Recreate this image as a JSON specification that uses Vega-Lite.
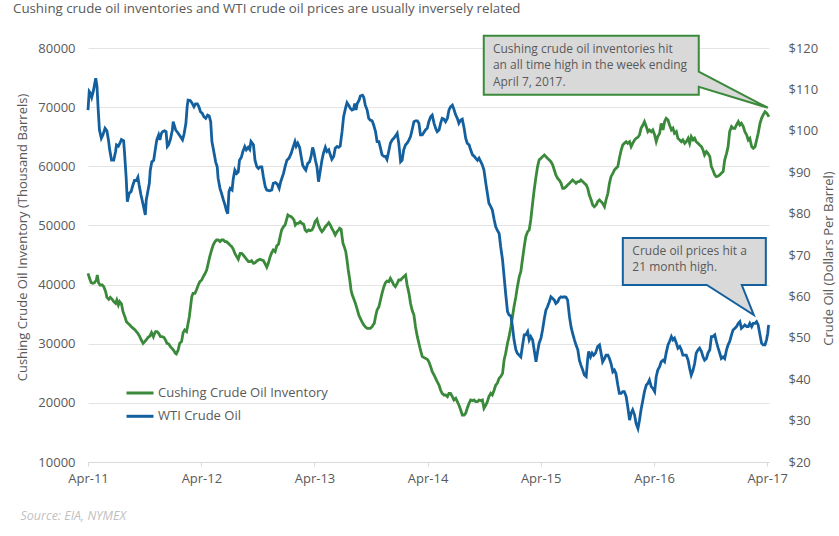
{
  "$schema": "https://vega.github.io/schema/vega-lite/v6.json",
  "width": 681,
  "height": 414,
  "autosize": {"type": "none"},
  "padding": {"left": 88, "top": 48, "right": 70, "bottom": 74},
  "background": "white",
  "config": {"font": "Open Sans", "view": {"stroke": null}},
  "title": {
    "text": "Cushing crude oil inventories and WTI crude oil prices are usually inversely related",
    "anchor": "start", "frame": "group", "dx": -75, "offset": 5,
    "fontSize": 13.3, "fontWeight": "normal", "color": "#595959", "baseline": "alphabetic"
  },
  "datasets": {
    "inv": [
      {"date":"2011-04-01","value":41900},{"date":"2011-04-06","value":41060},{"date":"2011-04-11","value":40320},{"date":"2011-04-17","value":40210},{"date":"2011-04-22","value":40320},{"date":"2011-04-28","value":40770},{"date":"2011-05-01","value":41620},{"date":"2011-05-05","value":40320},{"date":"2011-05-10","value":39930},{"date":"2011-05-17","value":39930},{"date":"2011-05-22","value":39650},{"date":"2011-05-28","value":38800},{"date":"2011-06-01","value":37840},{"date":"2011-06-07","value":37510},{"date":"2011-06-12","value":37840},{"date":"2011-06-18","value":37510},{"date":"2011-06-23","value":37110},{"date":"2011-06-29","value":36830},{"date":"2011-07-03","value":37390},{"date":"2011-07-08","value":36550},{"date":"2011-07-12","value":37110},{"date":"2011-07-18","value":36720},{"date":"2011-07-23","value":35420},{"date":"2011-07-29","value":34570},{"date":"2011-08-03","value":33730},{"date":"2011-08-08","value":33450},{"date":"2011-08-14","value":33170},{"date":"2011-08-19","value":32880},{"date":"2011-08-25","value":32600},{"date":"2011-08-31","value":32320},{"date":"2011-09-04","value":32040},{"date":"2011-09-09","value":31760},{"date":"2011-09-15","value":31190},{"date":"2011-09-20","value":30630},{"date":"2011-09-26","value":30070},{"date":"2011-10-01","value":30350},{"date":"2011-10-07","value":30740},{"date":"2011-10-12","value":31080},{"date":"2011-10-18","value":31310},{"date":"2011-10-23","value":31870},{"date":"2011-10-29","value":31190},{"date":"2011-11-01","value":31640},{"date":"2011-11-05","value":32040},{"date":"2011-11-10","value":32040},{"date":"2011-11-15","value":31760},{"date":"2011-11-21","value":31190},{"date":"2011-11-26","value":31190},{"date":"2011-12-02","value":31080},{"date":"2011-12-07","value":30630},{"date":"2011-12-12","value":30070},{"date":"2011-12-18","value":29950},{"date":"2011-12-23","value":29500},{"date":"2011-12-28","value":29220},{"date":"2012-01-03","value":28830},{"date":"2012-01-08","value":28370},{"date":"2012-01-11","value":28260},{"date":"2012-01-17","value":28940},{"date":"2012-01-22","value":30070},{"date":"2012-01-28","value":30350},{"date":"2012-02-02","value":31870},{"date":"2012-02-07","value":32320},{"date":"2012-02-13","value":32040},{"date":"2012-02-16","value":32880},{"date":"2012-02-22","value":34570},{"date":"2012-02-26","value":36270},{"date":"2012-03-01","value":37960},{"date":"2012-03-05","value":38520},{"date":"2012-03-11","value":38520},{"date":"2012-03-16","value":39080},{"date":"2012-03-22","value":39930},{"date":"2012-03-27","value":40490},{"date":"2012-04-02","value":40770},{"date":"2012-04-07","value":41340},{"date":"2012-04-12","value":41790},{"date":"2012-04-18","value":42460},{"date":"2012-04-23","value":43590},{"date":"2012-04-28","value":44720},{"date":"2012-05-04","value":45850},{"date":"2012-05-09","value":46690},{"date":"2012-05-15","value":47260},{"date":"2012-05-20","value":47540},{"date":"2012-05-25","value":47540},{"date":"2012-05-31","value":47260},{"date":"2012-06-05","value":47540},{"date":"2012-06-11","value":47540},{"date":"2012-06-16","value":47260},{"date":"2012-06-21","value":47260},{"date":"2012-06-27","value":46970},{"date":"2012-07-02","value":46690},{"date":"2012-07-08","value":46410},{"date":"2012-07-13","value":45960},{"date":"2012-07-18","value":45280},{"date":"2012-07-24","value":44720},{"date":"2012-07-29","value":44270},{"date":"2012-08-04","value":45280},{"date":"2012-08-09","value":45280},{"date":"2012-08-14","value":45000},{"date":"2012-08-20","value":44610},{"date":"2012-08-25","value":44270},{"date":"2012-08-31","value":43870},{"date":"2012-09-05","value":43870},{"date":"2012-09-10","value":44040},
      {"date":"2012-09-16","value":43590},{"date":"2012-09-21","value":43700},{"date":"2012-09-27","value":43990},{"date":"2012-10-02","value":44160},{"date":"2012-10-07","value":44270},{"date":"2012-10-13","value":44160},{"date":"2012-10-18","value":44040},{"date":"2012-10-24","value":43480},{"date":"2012-10-29","value":42920},{"date":"2012-11-03","value":43590},{"date":"2012-11-09","value":44720},{"date":"2012-11-14","value":45400},{"date":"2012-11-19","value":45850},{"date":"2012-11-25","value":45560},{"date":"2012-11-30","value":46520},{"date":"2012-12-06","value":46860},{"date":"2012-12-11","value":48100},{"date":"2012-12-16","value":49230},{"date":"2012-12-22","value":49790},{"date":"2012-12-27","value":50070},{"date":"2013-01-02","value":51200},{"date":"2013-01-05","value":51760},{"date":"2013-01-10","value":51600},{"date":"2013-01-16","value":51480},{"date":"2013-01-21","value":51200},{"date":"2013-01-25","value":50920},{"date":"2013-01-29","value":50070},{"date":"2013-02-03","value":50360},{"date":"2013-02-08","value":50360},{"date":"2013-02-14","value":50640},{"date":"2013-02-19","value":50360},{"date":"2013-02-25","value":50190},{"date":"2013-03-02","value":49230},{"date":"2013-03-07","value":48950},{"date":"2013-03-13","value":49230},{"date":"2013-03-18","value":49120},{"date":"2013-03-24","value":49230},{"date":"2013-03-29","value":49790},{"date":"2013-04-03","value":50640},{"date":"2013-04-09","value":51030},{"date":"2013-04-14","value":50070},{"date":"2013-04-20","value":49340},{"date":"2013-04-25","value":48950},{"date":"2013-04-30","value":49230},{"date":"2013-05-06","value":49790},{"date":"2013-05-11","value":50070},{"date":"2013-05-17","value":50470},{"date":"2013-05-22","value":50070},{"date":"2013-05-27","value":49510},{"date":"2013-06-02","value":48950},{"date":"2013-06-07","value":48380},{"date":"2013-06-13","value":48950},{"date":"2013-06-18","value":49230},{"date":"2013-06-21","value":49510},{"date":"2013-06-26","value":49340},{"date":"2013-06-29","value":48100},{"date":"2013-07-02","value":46970},{"date":"2013-07-06","value":46410},{"date":"2013-07-11","value":45560},{"date":"2013-07-15","value":44160},{"date":"2013-07-19","value":42460},{"date":"2013-07-24","value":40770},{"date":"2013-07-28","value":39080},{"date":"2013-08-01","value":38240},{"date":"2013-08-05","value":37670},{"date":"2013-08-11","value":36830},{"date":"2013-08-16","value":35980},{"date":"2013-08-22","value":34860},{"date":"2013-08-27","value":34290},{"date":"2013-09-01","value":33730},{"date":"2013-09-07","value":33170},{"date":"2013-09-12","value":32880},{"date":"2013-09-18","value":32600},{"date":"2013-09-23","value":32600},{"date":"2013-09-28","value":32600},{"date":"2013-10-04","value":32880},{"date":"2013-10-07","value":33170},{"date":"2013-10-11","value":33450},{"date":"2013-10-15","value":34570},{"date":"2013-10-20","value":35700},{"date":"2013-10-26","value":36270},{"date":"2013-10-31","value":37390},{"date":"2013-11-05","value":38520},{"date":"2013-11-11","value":39650},{"date":"2013-11-16","value":40320},{"date":"2013-11-21","value":40600},{"date":"2013-11-27","value":40490},{"date":"2013-12-02","value":41060},{"date":"2013-12-08","value":40490},{"date":"2013-12-13","value":39930},{"date":"2013-12-18","value":39650},{"date":"2013-12-24","value":40210},{"date":"2013-12-29","value":40770},{"date":"2014-01-04","value":40770},{"date":"2014-01-09","value":41060},{"date":"2014-01-14","value":41340},{"date":"2014-01-20","value":41620},{"date":"2014-01-25","value":39930},{"date":"2014-01-31","value":38520},{"date":"2014-02-05","value":36830},{"date":"2014-02-10","value":35700},{"date":"2014-02-16","value":34860},{"date":"2014-02-21","value":32880},{"date":"2014-02-27","value":31190},{"date":"2014-03-04","value":30070},{"date":"2014-03-09","value":28940},{"date":"2014-03-15","value":27810},
      {"date":"2014-03-31","value":27360},{"date":"2014-04-05","value":26970},{"date":"2014-04-11","value":26120},{"date":"2014-04-16","value":25270},{"date":"2014-04-22","value":24710},{"date":"2014-04-27","value":24150},{"date":"2014-05-02","value":23580},{"date":"2014-05-08","value":23020},{"date":"2014-05-13","value":22180},{"date":"2014-05-18","value":21610},{"date":"2014-05-24","value":21330},{"date":"2014-05-29","value":21330},{"date":"2014-06-04","value":21050},{"date":"2014-06-09","value":21610},{"date":"2014-06-14","value":21610},{"date":"2014-06-20","value":21050},{"date":"2014-06-25","value":20480},{"date":"2014-07-01","value":20770},{"date":"2014-07-06","value":20200},{"date":"2014-07-11","value":19640},{"date":"2014-07-17","value":18790},{"date":"2014-07-22","value":17950},{"date":"2014-07-28","value":17950},{"date":"2014-08-02","value":18230},{"date":"2014-08-07","value":19080},{"date":"2014-08-13","value":19920},{"date":"2014-08-18","value":20480},{"date":"2014-08-24","value":20370},{"date":"2014-08-29","value":20480},{"date":"2014-09-03","value":20200},{"date":"2014-09-09","value":20200},{"date":"2014-09-14","value":20480},{"date":"2014-09-20","value":20370},{"date":"2014-09-25","value":20480},{"date":"2014-09-30","value":19080},{"date":"2014-10-06","value":19640},{"date":"2014-10-11","value":20200},{"date":"2014-10-16","value":21050},{"date":"2014-10-22","value":21610},{"date":"2014-10-27","value":21330},{"date":"2014-11-02","value":22180},{"date":"2014-11-07","value":23020},{"date":"2014-11-12","value":23300},{"date":"2014-11-18","value":24150},{"date":"2014-11-23","value":24430},{"date":"2014-11-29","value":24990},{"date":"2014-12-04","value":27250},{"date":"2014-12-09","value":28370},{"date":"2014-12-15","value":30070},{"date":"2014-12-20","value":31190},{"date":"2014-12-26","value":32880},{"date":"2014-12-31","value":34570},{"date":"2015-01-05","value":36270},{"date":"2015-01-11","value":37960},{"date":"2015-01-16","value":39650},{"date":"2015-01-22","value":41340},{"date":"2015-01-27","value":42180},{"date":"2015-02-01","value":44160},{"date":"2015-02-07","value":46410},{"date":"2015-02-12","value":48100},{"date":"2015-02-18","value":48950},{"date":"2015-02-23","value":49230},{"date":"2015-02-28","value":50920},{"date":"2015-03-06","value":53740},{"date":"2015-03-11","value":55990},{"date":"2015-03-17","value":58250},{"date":"2015-03-22","value":59940},{"date":"2015-03-27","value":61060},{"date":"2015-04-02","value":61350},{"date":"2015-04-07","value":61630},{"date":"2015-04-13","value":61910},{"date":"2015-04-18","value":61630},{"date":"2015-04-23","value":61350},{"date":"2015-04-29","value":61060},{"date":"2015-05-04","value":60780},{"date":"2015-05-10","value":60220},{"date":"2015-05-15","value":59370},{"date":"2015-05-20","value":58530},{"date":"2015-05-26","value":57960},{"date":"2015-05-31","value":57680},{"date":"2015-06-06","value":57120},{"date":"2015-06-11","value":56270},{"date":"2015-06-16","value":56270},{"date":"2015-06-22","value":56550},{"date":"2015-06-27","value":56840},{"date":"2015-07-03","value":57120},{"date":"2015-07-08","value":57400},{"date":"2015-07-13","value":57680},{"date":"2015-07-19","value":57400},{"date":"2015-07-24","value":57120},{"date":"2015-07-30","value":57400},{"date":"2015-08-04","value":57400},{"date":"2015-08-09","value":57680},{"date":"2015-08-15","value":57400},{"date":"2015-08-20","value":57120},{"date":"2015-08-26","value":56840},{"date":"2015-08-31","value":56270},{"date":"2015-09-05","value":55140},{"date":"2015-09-11","value":54300},{"date":"2015-09-16","value":53450},{"date":"2015-09-21","value":53170},{"date":"2015-09-27","value":53450},{"date":"2015-10-02","value":54020},{"date":"2015-10-08","value":54300},
      {"date":"2015-10-13","value":54020},{"date":"2015-10-18","value":53740},{"date":"2015-10-24","value":53170},{"date":"2015-10-29","value":54300},{"date":"2015-11-04","value":55430},{"date":"2015-11-09","value":57120},{"date":"2015-11-14","value":58250},{"date":"2015-11-20","value":58810},{"date":"2015-11-25","value":59370},{"date":"2015-11-30","value":59650},{"date":"2015-12-06","value":59940},{"date":"2015-12-11","value":61350},{"date":"2015-12-17","value":62750},{"date":"2015-12-22","value":63600},{"date":"2015-12-27","value":63880},{"date":"2016-01-02","value":64160},{"date":"2016-01-07","value":63880},{"date":"2016-01-13","value":64160},{"date":"2016-01-18","value":63320},{"date":"2016-01-23","value":63880},{"date":"2016-01-29","value":64450},{"date":"2016-02-03","value":64730},{"date":"2016-02-09","value":64900},{"date":"2016-02-14","value":65290},{"date":"2016-02-19","value":66420},{"date":"2016-02-25","value":66980},{"date":"2016-03-01","value":67550},{"date":"2016-03-07","value":66700},{"date":"2016-03-12","value":65850},{"date":"2016-03-17","value":66140},{"date":"2016-03-23","value":65850},{"date":"2016-03-28","value":66140},{"date":"2016-04-03","value":65290},{"date":"2016-04-08","value":64160},{"date":"2016-04-13","value":65010},{"date":"2016-04-19","value":65570},{"date":"2016-04-24","value":67260},{"date":"2016-04-30","value":66140},{"date":"2016-05-05","value":67550},{"date":"2016-05-10","value":68110},{"date":"2016-05-16","value":67830},{"date":"2016-05-21","value":66980},{"date":"2016-05-27","value":66140},{"date":"2016-06-01","value":66420},{"date":"2016-06-06","value":65570},{"date":"2016-06-12","value":65850},{"date":"2016-06-17","value":64730},{"date":"2016-06-23","value":64450},{"date":"2016-06-28","value":64160},{"date":"2016-07-03","value":64450},{"date":"2016-07-09","value":63880},{"date":"2016-07-14","value":64160},{"date":"2016-07-20","value":64730},{"date":"2016-07-25","value":63880},{"date":"2016-07-30","value":65010},{"date":"2016-08-05","value":64450},{"date":"2016-08-10","value":64730},{"date":"2016-08-15","value":64160},{"date":"2016-08-21","value":63880},{"date":"2016-08-26","value":63600},{"date":"2016-09-01","value":63320},{"date":"2016-09-06","value":62750},{"date":"2016-09-11","value":61910},{"date":"2016-09-17","value":62470},{"date":"2016-09-22","value":62190},{"date":"2016-09-28","value":61630},{"date":"2016-10-03","value":59940},{"date":"2016-10-08","value":59370},{"date":"2016-10-14","value":58530},{"date":"2016-10-19","value":58250},{"date":"2016-10-25","value":58360},{"date":"2016-10-30","value":58530},{"date":"2016-11-04","value":58810},{"date":"2016-11-10","value":59090},{"date":"2016-11-15","value":61060},{"date":"2016-11-21","value":62190},{"date":"2016-11-26","value":63320},{"date":"2016-12-01","value":65850},{"date":"2016-12-07","value":66700},{"date":"2016-12-12","value":66420},{"date":"2016-12-18","value":66420},{"date":"2016-12-23","value":66980},{"date":"2016-12-29","value":67550},{"date":"2017-01-03","value":66980},{"date":"2017-01-08","value":67260},{"date":"2017-01-14","value":66700},{"date":"2017-01-19","value":65850},{"date":"2017-01-25","value":65290},{"date":"2017-01-30","value":64450},{"date":"2017-02-04","value":64730},{"date":"2017-02-10","value":63320},{"date":"2017-02-15","value":63040},{"date":"2017-02-21","value":63320},{"date":"2017-02-26","value":64450},{"date":"2017-03-03","value":65570},{"date":"2017-03-09","value":67260},{"date":"2017-03-14","value":68110},{"date":"2017-03-19","value":68670},{"date":"2017-03-25","value":69240},{"date":"2017-03-31","value":68950},{"date":"2017-04-07","value":68390}
    ],
    "wti": [
      {"date":"2011-04-01","value":105.0},{"date":"2011-04-05","value":109.5},{"date":"2011-04-09","value":109.1},{"date":"2011-04-13","value":108.1},{"date":"2011-04-18","value":109.5},{"date":"2011-04-26","value":112.7},{"date":"2011-04-30","value":110.7},{"date":"2011-05-04","value":105.0},{"date":"2011-05-08","value":100.2},{"date":"2011-05-14","value":98.2},{"date":"2011-05-19","value":99.0},{"date":"2011-05-26","value":100.6},{"date":"2011-06-01","value":100.0},{"date":"2011-06-06","value":97.8},{"date":"2011-06-10","value":95.4},{"date":"2011-06-16","value":92.9},{"date":"2011-06-23","value":92.9},{"date":"2011-06-29","value":95.0},{"date":"2011-07-02","value":96.6},{"date":"2011-07-08","value":96.3},{"date":"2011-07-13","value":97.0},{"date":"2011-07-18","value":97.9},{"date":"2011-07-25","value":97.6},{"date":"2011-07-28","value":94.6},{"date":"2011-08-02","value":88.9},{"date":"2011-08-06","value":82.9},{"date":"2011-08-12","value":84.9},{"date":"2011-08-18","value":85.3},{"date":"2011-08-24","value":86.9},{"date":"2011-08-29","value":88.0},{"date":"2011-09-04","value":88.0},{"date":"2011-09-09","value":88.8},{"date":"2011-09-13","value":86.9},{"date":"2011-09-19","value":84.5},{"date":"2011-09-25","value":82.5},{"date":"2011-10-03","value":79.7},{"date":"2011-10-06","value":83.3},{"date":"2011-10-12","value":85.7},{"date":"2011-10-16","value":87.3},{"date":"2011-10-19","value":90.5},{"date":"2011-10-24","value":92.5},{"date":"2011-10-30","value":92.9},{"date":"2011-11-04","value":95.4},{"date":"2011-11-09","value":97.8},{"date":"2011-11-15","value":99.0},{"date":"2011-11-19","value":97.8},{"date":"2011-11-24","value":99.4},{"date":"2011-11-28","value":99.8},{"date":"2011-12-04","value":100.0},{"date":"2011-12-09","value":99.8},{"date":"2011-12-13","value":96.2},{"date":"2011-12-17","value":96.6},{"date":"2011-12-23","value":97.9},{"date":"2011-12-27","value":99.4},{"date":"2011-12-29","value":100.0},{"date":"2012-01-01","value":102.2},{"date":"2012-01-04","value":101.4},{"date":"2012-01-09","value":100.2},{"date":"2012-01-17","value":99.4},{"date":"2012-01-24","value":98.6},{"date":"2012-01-31","value":97.8},{"date":"2012-02-05","value":99.2},{"date":"2012-02-11","value":101.8},{"date":"2012-02-15","value":105.8},{"date":"2012-02-18","value":107.4},{"date":"2012-02-25","value":107.3},{"date":"2012-03-01","value":106.8},{"date":"2012-03-08","value":105.8},{"date":"2012-03-13","value":106.5},{"date":"2012-03-19","value":106.5},{"date":"2012-03-24","value":105.8},{"date":"2012-03-29","value":104.6},{"date":"2012-04-04","value":104.2},{"date":"2012-04-09","value":103.4},{"date":"2012-04-15","value":103.0},{"date":"2012-04-21","value":103.8},{"date":"2012-04-26","value":103.6},{"date":"2012-05-01","value":102.2},{"date":"2012-05-05","value":97.4},{"date":"2012-05-11","value":95.0},{"date":"2012-05-17","value":92.5},{"date":"2012-05-22","value":91.3},{"date":"2012-05-25","value":88.5},{"date":"2012-05-31","value":86.1},{"date":"2012-06-05","value":84.9},{"date":"2012-06-11","value":83.3},{"date":"2012-06-16","value":82.1},{"date":"2012-06-21","value":80.7},{"date":"2012-06-25","value":80.0},{"date":"2012-06-29","value":85.3},{"date":"2012-07-03","value":86.1},{"date":"2012-07-09","value":85.7},{"date":"2012-07-13","value":88.5},{"date":"2012-07-18","value":90.5},{"date":"2012-07-24","value":89.7},{"date":"2012-07-29","value":90.1},{"date":"2012-08-02","value":92.9},{"date":"2012-08-08","value":93.6},{"date":"2012-08-13","value":95.0},{"date":"2012-08-19","value":96.2},{"date":"2012-08-24","value":95.4},{"date":"2012-08-30","value":96.0},{"date":"2012-09-04","value":95.5},{"date":"2012-09-08","value":97.4},
      {"date":"2012-09-16","value":96.6},{"date":"2012-09-21","value":92.9},{"date":"2012-09-27","value":91.3},{"date":"2012-10-02","value":90.9},{"date":"2012-10-07","value":91.3},{"date":"2012-10-13","value":91.3},{"date":"2012-10-18","value":88.9},{"date":"2012-10-24","value":86.5},{"date":"2012-10-29","value":85.7},{"date":"2012-11-07","value":85.5},{"date":"2012-11-14","value":85.7},{"date":"2012-11-19","value":87.3},{"date":"2012-11-26","value":87.5},{"date":"2012-12-02","value":87.1},{"date":"2012-12-08","value":86.1},{"date":"2012-12-13","value":87.7},{"date":"2012-12-22","value":89.7},{"date":"2012-12-27","value":91.3},{"date":"2013-01-02","value":92.9},{"date":"2013-01-09","value":93.4},{"date":"2013-01-16","value":94.6},{"date":"2013-01-21","value":95.8},{"date":"2013-01-28","value":97.4},{"date":"2013-02-01","value":96.3},{"date":"2013-02-06","value":97.0},{"date":"2013-02-12","value":96.0},{"date":"2013-02-17","value":93.8},{"date":"2013-02-22","value":91.7},{"date":"2013-02-28","value":90.9},{"date":"2013-03-04","value":90.5},{"date":"2013-03-10","value":92.1},{"date":"2013-03-16","value":92.5},{"date":"2013-03-21","value":93.8},{"date":"2013-03-26","value":96.0},{"date":"2013-03-30","value":95.0},{"date":"2013-04-04","value":92.9},{"date":"2013-04-09","value":91.3},{"date":"2013-04-14","value":87.7},{"date":"2013-04-20","value":90.5},{"date":"2013-04-25","value":92.9},{"date":"2013-04-30","value":94.6},{"date":"2013-05-06","value":96.0},{"date":"2013-05-11","value":95.0},{"date":"2013-05-17","value":95.4},{"date":"2013-05-22","value":94.2},{"date":"2013-05-27","value":93.1},{"date":"2013-06-02","value":93.8},{"date":"2013-06-07","value":95.8},{"date":"2013-06-13","value":96.2},{"date":"2013-06-18","value":96.0},{"date":"2013-06-23","value":96.3},{"date":"2013-06-29","value":99.8},{"date":"2013-07-04","value":103.4},{"date":"2013-07-10","value":105.4},{"date":"2013-07-15","value":106.8},{"date":"2013-07-20","value":106.2},{"date":"2013-07-26","value":105.4},{"date":"2013-07-31","value":105.0},{"date":"2013-08-05","value":105.2},{"date":"2013-08-09","value":106.6},{"date":"2013-08-13","value":105.0},{"date":"2013-08-17","value":106.6},{"date":"2013-08-23","value":107.4},{"date":"2013-08-27","value":108.4},{"date":"2013-09-03","value":108.6},{"date":"2013-09-07","value":108.1},{"date":"2013-09-12","value":106.2},{"date":"2013-09-18","value":105.0},{"date":"2013-09-23","value":103.0},{"date":"2013-09-28","value":102.6},{"date":"2013-10-04","value":102.4},{"date":"2013-10-09","value":101.4},{"date":"2013-10-15","value":99.8},{"date":"2013-10-20","value":97.4},{"date":"2013-10-26","value":97.4},{"date":"2013-10-31","value":95.8},{"date":"2013-11-05","value":94.2},{"date":"2013-11-11","value":93.8},{"date":"2013-11-16","value":93.8},{"date":"2013-11-21","value":93.1},{"date":"2013-11-27","value":95.2},{"date":"2013-12-02","value":97.0},{"date":"2013-12-08","value":97.8},{"date":"2013-12-13","value":98.2},{"date":"2013-12-18","value":98.7},{"date":"2013-12-24","value":99.4},{"date":"2013-12-29","value":97.0},{"date":"2014-01-04","value":92.5},{"date":"2014-01-09","value":92.9},{"date":"2014-01-14","value":95.4},{"date":"2014-01-20","value":96.6},{"date":"2014-01-25","value":97.0},{"date":"2014-01-31","value":97.8},{"date":"2014-02-05","value":98.6},{"date":"2014-02-10","value":100.2},{"date":"2014-02-16","value":102.2},{"date":"2014-02-21","value":102.4},{"date":"2014-02-27","value":102.4},{"date":"2014-03-04","value":101.8},{"date":"2014-03-09","value":99.0},{"date":"2014-03-15","value":99.0},
      {"date":"2014-03-25","value":100.2},{"date":"2014-03-31","value":100.6},{"date":"2014-04-05","value":102.2},{"date":"2014-04-11","value":103.4},{"date":"2014-04-16","value":103.8},{"date":"2014-04-22","value":101.8},{"date":"2014-04-27","value":100.6},{"date":"2014-05-02","value":99.8},{"date":"2014-05-08","value":100.2},{"date":"2014-05-13","value":101.8},{"date":"2014-05-18","value":103.0},{"date":"2014-05-24","value":102.8},{"date":"2014-05-29","value":102.2},{"date":"2014-06-04","value":103.0},{"date":"2014-06-09","value":105.0},{"date":"2014-06-14","value":105.8},{"date":"2014-06-20","value":106.2},{"date":"2014-06-25","value":105.2},{"date":"2014-07-01","value":103.8},{"date":"2014-07-06","value":103.0},{"date":"2014-07-11","value":101.8},{"date":"2014-07-17","value":102.6},{"date":"2014-07-22","value":102.8},{"date":"2014-07-28","value":100.6},{"date":"2014-08-02","value":98.2},{"date":"2014-08-07","value":97.0},{"date":"2014-08-13","value":96.6},{"date":"2014-08-18","value":95.4},{"date":"2014-08-24","value":94.2},{"date":"2014-08-29","value":93.9},{"date":"2014-09-03","value":93.4},{"date":"2014-09-09","value":92.9},{"date":"2014-09-14","value":93.4},{"date":"2014-09-20","value":92.5},{"date":"2014-09-25","value":91.7},{"date":"2014-09-30","value":90.5},{"date":"2014-10-06","value":87.3},{"date":"2014-10-11","value":84.9},{"date":"2014-10-16","value":82.5},{"date":"2014-10-22","value":81.7},{"date":"2014-10-27","value":80.9},{"date":"2014-11-02","value":78.5},{"date":"2014-11-07","value":76.8},{"date":"2014-11-12","value":76.0},{"date":"2014-11-18","value":75.2},{"date":"2014-11-23","value":72.0},{"date":"2014-11-29","value":68.8},{"date":"2014-12-04","value":64.8},{"date":"2014-12-09","value":60.7},{"date":"2014-12-15","value":56.3},{"date":"2014-12-20","value":55.5},{"date":"2014-12-26","value":55.3},{"date":"2014-12-31","value":52.7},{"date":"2015-01-05","value":49.5},{"date":"2015-01-11","value":47.1},{"date":"2015-01-16","value":46.2},{"date":"2015-01-22","value":45.8},{"date":"2015-01-27","value":45.4},{"date":"2015-02-01","value":47.9},{"date":"2015-02-07","value":50.7},{"date":"2015-02-12","value":50.7},{"date":"2015-02-18","value":51.5},{"date":"2015-02-23","value":49.5},{"date":"2015-02-28","value":50.3},{"date":"2015-03-06","value":49.5},{"date":"2015-03-11","value":47.1},{"date":"2015-03-17","value":44.2},{"date":"2015-03-22","value":46.6},{"date":"2015-03-27","value":48.7},{"date":"2015-04-02","value":49.9},{"date":"2015-04-07","value":51.9},{"date":"2015-04-13","value":54.7},{"date":"2015-04-18","value":56.7},{"date":"2015-04-23","value":57.5},{"date":"2015-04-29","value":58.7},{"date":"2015-05-04","value":59.9},{"date":"2015-05-10","value":59.5},{"date":"2015-05-15","value":59.1},{"date":"2015-05-20","value":58.3},{"date":"2015-05-26","value":58.7},{"date":"2015-05-31","value":59.5},{"date":"2015-06-06","value":59.9},{"date":"2015-06-11","value":59.8},{"date":"2015-06-16","value":59.9},{"date":"2015-06-22","value":59.8},{"date":"2015-06-27","value":59.1},{"date":"2015-07-03","value":55.1},{"date":"2015-07-08","value":52.7},{"date":"2015-07-13","value":51.1},{"date":"2015-07-19","value":49.5},{"date":"2015-07-24","value":48.3},{"date":"2015-07-30","value":47.1},{"date":"2015-08-04","value":44.6},{"date":"2015-08-09","value":43.4},{"date":"2015-08-15","value":42.2},{"date":"2015-08-20","value":41.0},{"date":"2015-08-26","value":40.6},{"date":"2015-08-31","value":45.0},{"date":"2015-09-03","value":46.7},{"date":"2015-09-09","value":45.4},{"date":"2015-09-14","value":46.3},{"date":"2015-09-19","value":45.8},{"date":"2015-09-25","value":46.3},{"date":"2015-10-02","value":47.9},{"date":"2015-10-08","value":48.3},
      {"date":"2015-10-13","value":46.3},{"date":"2015-10-18","value":44.2},{"date":"2015-10-24","value":45.0},{"date":"2015-10-29","value":45.8},{"date":"2015-11-04","value":45.8},{"date":"2015-11-09","value":45.0},{"date":"2015-11-14","value":43.8},{"date":"2015-11-20","value":41.8},{"date":"2015-11-25","value":42.2},{"date":"2015-11-30","value":41.4},{"date":"2015-12-06","value":38.6},{"date":"2015-12-11","value":36.6},{"date":"2015-12-17","value":36.6},{"date":"2015-12-22","value":37.0},{"date":"2015-12-27","value":37.0},{"date":"2016-01-02","value":35.8},{"date":"2016-01-07","value":33.4},{"date":"2016-01-13","value":30.1},{"date":"2016-01-18","value":31.8},{"date":"2016-01-23","value":32.6},{"date":"2016-01-29","value":31.4},{"date":"2016-02-03","value":29.3},{"date":"2016-02-09","value":28.1},{"date":"2016-02-14","value":30.1},{"date":"2016-02-19","value":32.6},{"date":"2016-02-25","value":35.0},{"date":"2016-03-01","value":37.0},{"date":"2016-03-07","value":38.6},{"date":"2016-03-12","value":39.0},{"date":"2016-03-17","value":39.8},{"date":"2016-03-23","value":38.2},{"date":"2016-03-28","value":37.8},{"date":"2016-04-03","value":37.0},{"date":"2016-04-08","value":40.6},{"date":"2016-04-13","value":42.2},{"date":"2016-04-19","value":43.0},{"date":"2016-04-24","value":44.2},{"date":"2016-04-30","value":44.6},{"date":"2016-05-05","value":44.2},{"date":"2016-05-10","value":46.3},{"date":"2016-05-16","value":48.3},{"date":"2016-05-21","value":49.1},{"date":"2016-05-27","value":50.3},{"date":"2016-06-01","value":49.5},{"date":"2016-06-06","value":49.9},{"date":"2016-06-12","value":48.7},{"date":"2016-06-17","value":47.5},{"date":"2016-06-23","value":47.9},{"date":"2016-06-28","value":47.1},{"date":"2016-07-03","value":45.8},{"date":"2016-07-09","value":45.8},{"date":"2016-07-14","value":45.8},{"date":"2016-07-20","value":44.6},{"date":"2016-07-25","value":42.6},{"date":"2016-07-30","value":41.0},{"date":"2016-08-05","value":42.2},{"date":"2016-08-10","value":43.8},{"date":"2016-08-15","value":46.3},{"date":"2016-08-21","value":47.1},{"date":"2016-08-26","value":47.5},{"date":"2016-09-01","value":46.7},{"date":"2016-09-06","value":45.4},{"date":"2016-09-11","value":44.6},{"date":"2016-09-17","value":45.0},{"date":"2016-09-22","value":46.3},{"date":"2016-09-28","value":47.1},{"date":"2016-10-03","value":50.3},{"date":"2016-10-08","value":50.3},{"date":"2016-10-14","value":50.7},{"date":"2016-10-19","value":49.1},{"date":"2016-10-25","value":47.5},{"date":"2016-10-30","value":46.3},{"date":"2016-11-04","value":45.0},{"date":"2016-11-10","value":45.4},{"date":"2016-11-15","value":45.0},{"date":"2016-11-21","value":47.1},{"date":"2016-11-26","value":48.3},{"date":"2016-12-01","value":49.1},{"date":"2016-12-07","value":50.7},{"date":"2016-12-12","value":51.9},{"date":"2016-12-18","value":52.3},{"date":"2016-12-23","value":52.7},{"date":"2016-12-29","value":53.5},{"date":"2017-01-03","value":53.9},{"date":"2017-01-08","value":52.3},{"date":"2017-01-14","value":52.7},{"date":"2017-01-19","value":53.1},{"date":"2017-01-25","value":52.7},{"date":"2017-01-30","value":52.7},{"date":"2017-02-04","value":53.5},{"date":"2017-02-10","value":52.7},{"date":"2017-02-15","value":53.5},{"date":"2017-02-21","value":53.5},{"date":"2017-02-26","value":53.9},{"date":"2017-03-03","value":53.1},{"date":"2017-03-09","value":50.7},{"date":"2017-03-14","value":48.7},{"date":"2017-03-19","value":48.3},{"date":"2017-03-25","value":48.3},{"date":"2017-03-30","value":49.5},{"date":"2017-04-03","value":51.1},{"date":"2017-04-05","value":52.7},{"date":"2017-04-07","value":53.1}
    ]
  },
  "layer": [
    {
      "data": {"name": "inv"},
      "mark": {"type": "line", "strokeWidth": 2.8},
      "encoding": {
        "x": {
          "field": "date", "type": "temporal",
          "scale": {"type": "utc", "domain": [{"year": 2011, "month": 4, "date": 1, "utc": true}, {"year": 2017, "month": 4, "date": 7, "utc": true}]},
          "axis": {
            "values": [
              {"year": 2011, "month": 4, "date": 1, "utc": true},
              {"year": 2012, "month": 4, "date": 1, "utc": true},
              {"year": 2013, "month": 4, "date": 1, "utc": true},
              {"year": 2014, "month": 4, "date": 1, "utc": true},
              {"year": 2015, "month": 4, "date": 1, "utc": true},
              {"year": 2016, "month": 4, "date": 1, "utc": true},
              {"year": 2017, "month": 4, "date": 1, "utc": true}
            ],
            "labelExpr": "utcFormat(datum.value, '%b-%y')",
            "grid": false, "domainColor": "#d9d9d9", "tickColor": "#d9d9d9", "tickSize": 4,
            "labelFontSize": 13, "labelColor": "#595959", "labelPadding": 6, "labelFlush": false, "labelOverlap": false,
            "title": "Source: EIA, NYMEX",
            "titleX": -68, "titleY": 53, "titleAlign": "left", "titleBaseline": "middle",
            "titleFontStyle": "italic", "titleFontWeight": "normal", "titleFontSize": 12.5, "titleColor": "#bfbfbf"
          }
        },
        "y": {
          "field": "value", "type": "quantitative",
          "scale": {"domain": [10000, 80000]},
          "axis": {
            "orient": "left",
            "values": [10000, 20000, 30000, 40000, 50000, 60000, 70000, 80000],
            "format": "d",
            "grid": true, "gridColor": "#e4e4e4", "domain": false, "ticks": false,
            "labelPadding": 13, "labelFontSize": 13, "labelColor": "#595959",
            "title": "Cushing Crude Oil Inventory (Thousand Barrels)",
            "titleX": -66, "titleY": 189, "titleAngle": 270, "titleAlign": "center", "titleBaseline": "middle",
            "titleFontSize": 13, "titleFontWeight": "normal", "titleColor": "#595959"
          }
        },
        "color": {
          "datum": "Cushing Crude Oil Inventory", "type": "nominal",
          "scale": {"domain": ["Cushing Crude Oil Inventory", "WTI Crude Oil"], "range": ["#3b8a3b", "#14609f"]},
          "legend": {
            "title": null, "orient": "none", "legendX": 37, "legendY": 330, "direction": "vertical",
            "symbolType": "stroke", "symbolSize": 729, "symbolStrokeWidth": 3,
            "labelFontSize": 13, "labelColor": "#595959", "labelOffset": 3, "labelLimit": 400, "rowPadding": 1.3, "padding": 0
          }
        }
      }
    },
    {
      "data": {"name": "wti"},
      "mark": {"type": "line", "strokeWidth": 2.8},
      "encoding": {
        "x": {
          "field": "date", "type": "temporal",
          "scale": {"type": "utc", "domain": [{"year": 2011, "month": 4, "date": 1, "utc": true}, {"year": 2017, "month": 4, "date": 7, "utc": true}]}
        },
        "y": {
          "field": "value", "type": "quantitative",
          "scale": {"domain": [20, 120]},
          "axis": {
            "orient": "right",
            "values": [20, 30, 40, 50, 60, 70, 80, 90, 100, 110, 120],
            "format": "$d",
            "grid": false, "domain": false, "ticks": false,
            "labelPadding": 19, "labelFontSize": 13, "labelColor": "#595959",
            "title": "Crude Oil (Dollars Per Barrel)",
            "titleX": 59, "titleY": 210, "titleAngle": 270, "titleAlign": "center", "titleBaseline": "middle",
            "titleFontSize": 13, "titleFontWeight": "normal", "titleColor": "#595959"
          }
        },
        "color": {"datum": "WTI Crude Oil", "type": "nominal"}
      }
    },
    {
      "data": {"values": [{}]},
      "mark": {"type": "point", "shape": "M-284,-72L-69,-72L-69,-36L0,0L-69,-21L-69,-13L-284,-13Z", "size": 4, "filled": true, "fill": "#d9d9d9", "stroke": "#3b8a3b", "strokeWidth": 2, "opacity": 1},
      "encoding": {
        "x": {"datum": {"year": 2017, "month": 4, "date": 3, "utc": true}, "type": "temporal", "scale": {"type": "utc", "domain": [{"year": 2011, "month": 4, "date": 1, "utc": true}, {"year": 2017, "month": 4, "date": 7, "utc": true}]}},
        "y": {"datum": 69900, "type": "quantitative", "scale": {"domain": [10000, 80000]}, "axis": null}
      }
    },
    {
      "data": {"values": [{}]},
      "mark": {"type": "text", "text": ["Cushing crude oil inventories hit", "an all time high in the week ending", "April 7, 2017."], "align": "left", "baseline": "top", "fontSize": 12, "lineHeight": 16.7, "color": "#595959"},
      "encoding": {
        "x": {"datum": {"year": 2014, "month": 10, "date": 29, "utc": true}, "type": "temporal", "scale": {"type": "utc", "domain": [{"year": 2011, "month": 4, "date": 1, "utc": true}, {"year": 2017, "month": 4, "date": 7, "utc": true}]}},
        "y": {"datum": 80760, "type": "quantitative", "scale": {"domain": [10000, 80000]}, "axis": null}
      }
    },
    {
      "data": {"values": [{}]},
      "mark": {"type": "point", "shape": "M-131,-77L12,-77L12,-30L-12,-30L0,0L-47,-30L-131,-30Z", "size": 4, "filled": true, "fill": "#d9d9d9", "stroke": "#14609f", "strokeWidth": 2, "opacity": 1},
      "encoding": {
        "x": {"datum": {"year": 2017, "month": 2, "date": 17, "utc": true}, "type": "temporal", "scale": {"type": "utc", "domain": [{"year": 2011, "month": 4, "date": 1, "utc": true}, {"year": 2017, "month": 4, "date": 7, "utc": true}]}},
        "y": {"datum": 55.5, "type": "quantitative", "scale": {"domain": [20, 120]}, "axis": null}
      }
    },
    {
      "data": {"values": [{}]},
      "mark": {"type": "text", "text": ["Crude oil prices hit a", "21 month high."], "align": "left", "baseline": "top", "fontSize": 12, "lineHeight": 15.7, "color": "#595959"},
      "encoding": {
        "x": {"datum": {"year": 2016, "month": 1, "date": 22, "utc": true}, "type": "temporal", "scale": {"type": "utc", "domain": [{"year": 2011, "month": 4, "date": 1, "utc": true}, {"year": 2017, "month": 4, "date": 7, "utc": true}]}},
        "y": {"datum": 72.2, "type": "quantitative", "scale": {"domain": [20, 120]}, "axis": null}
      }
    }
  ],
  "resolve": {"scale": {"y": "independent"}, "axis": {"y": "independent"}}
}
